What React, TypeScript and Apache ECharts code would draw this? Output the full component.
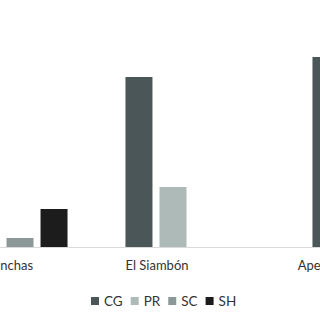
import React, { useEffect, useRef } from "react";
import * as echarts from "echarts";

const categories = ["Las Lanchas", "El Siambón", "Apeadero"];
const seriesNames = ["CG", "PR", "SC", "SH"];
const cgValues = [null, 85, 95];
const prValues = [null, 30, null];
const scValues = [4.5, null, null];
const shValues = [19, null, null];
const colors = ["#4b5658", "#aebab8", "#8c9898", "#1c1c1c"];
const labelShiftPad = [8, 66, 103];

export default function App() {
  const ref = useRef<HTMLDivElement>(null);
  useEffect(() => {
    if (!ref.current) return;
    const chart = echarts.init(ref.current, null, { renderer: "svg" });
    const values = [cgValues, prValues, scValues, shValues];
    const rich: any = {};
    labelShiftPad.forEach((p, i) => {
      rich["l" + i] = {
        padding: [0, p, 0, 0],
        fontFamily: "Lato",
        fontSize: 13,
        color: "#333333",
      };
    });
    chart.setOption({
      animation: false,
      grid: { left: 9.5, right: 9.5, top: 47, bottom: 73 },
      legend: {
        data: seriesNames,
        left: 186,
        top: 289,
        icon: "rect",
        itemWidth: 8,
        itemHeight: 8,
        itemGap: 8,
        textStyle: { fontFamily: "Lato", fontSize: 13.5, color: "#333333" },
      },
      xAxis: {
        type: "category",
        data: categories,
        axisLine: { lineStyle: { color: "#d9d9d9", width: 1 } },
        axisTick: { show: false },
        axisLabel: {
          interval: 0,
          margin: 11,
          formatter: (v: string, i: number) => `{l${i}|${v}}`,
          rich,
        },
      },
      yAxis: {
        type: "value",
        min: 0,
        max: 100,
        show: false,
        splitLine: { show: false },
      },
      series: seriesNames.map((name, i) => ({
        name,
        type: "bar",
        data: values[i],
        barWidth: 27,
        barGap: "26%",
        itemStyle: { color: colors[i] },
      })),
    });
    return () => chart.dispose();
  }, []);
  return (
    <div
      style={{
        position: "absolute",
        left: 0,
        top: 0,
        width: 320,
        height: 320,
        overflow: "hidden",
        background: "#fff",
      }}
    >
      <div
        ref={ref}
        style={{ position: "absolute", left: -100, top: 0, width: 580, height: 320 }}
      />
    </div>
  );
}
